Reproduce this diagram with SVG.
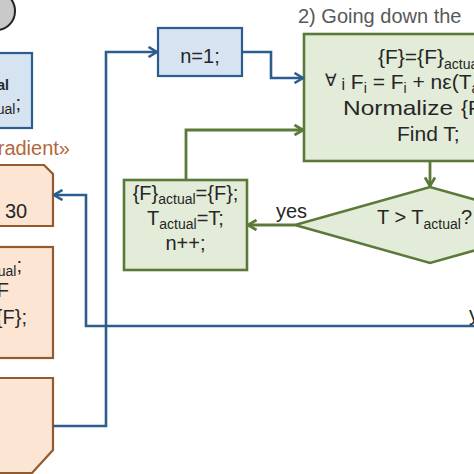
<svg xmlns="http://www.w3.org/2000/svg" width="474" height="474" viewBox="0 0 474 474">
<defs>
<style>
text{font-family:"Liberation Sans",Arial,sans-serif;fill:#262626;font-size:20px}
.sub{font-size:14px}
.big{font-size:21px}
.blue{fill:#d6e3f1;stroke:#2c5d8f;stroke-width:2.2}
.green{fill:#e3ecd8;stroke:#5b7a3a;stroke-width:2.6}
.salmon{fill:#fde5d3;stroke:#94592c;stroke-width:2.2}
.cb{fill:none;stroke:#2c5d8f;stroke-width:2.6}
.cg{fill:none;stroke:#5b7a3a;stroke-width:2.8}
</style>
<marker id="ab" viewBox="0 0 12 12" refX="10.5" refY="6" markerWidth="12" markerHeight="12" markerUnits="userSpaceOnUse" orient="auto"><path d="M2,1 L10.5,6 L2,11" fill="none" stroke="#2c5d8f" stroke-width="2.6"/></marker>
<marker id="ag" viewBox="0 0 12 12" refX="10.5" refY="6" markerWidth="12" markerHeight="12" markerUnits="userSpaceOnUse" orient="auto"><path d="M2,1 L10.5,6 L2,11" fill="none" stroke="#5b7a3a" stroke-width="2.8"/></marker>
</defs>
<rect width="474" height="474" fill="#fff"/>

<g id="start">
<ellipse cx="-3" cy="11" rx="18" ry="19" fill="#c9c9c9" stroke="#222" stroke-width="2"/>
</g>

<g id="init-left">
<rect class="blue" x="-10" y="53" width="42" height="75"/>
<text class="sub" x="9" y="90" text-anchor="end" font-weight="bold">actual</text>
<text x="21" y="110" text-anchor="end">T<tspan class="sub" dy="4">actual</tspan><tspan dy="-4">;</tspan></text>
</g>

<g id="label-left">
<text x="70" y="155" text-anchor="end" font-size="19" style="fill:#b5673a">gradient»</text>
</g>

<g id="box-a">
<path class="salmon" d="M-5,165 H44 L53,174 V226 H-5 Z"/>
<text x="5" y="218" font-size="19">30</text>
</g>

<g id="box-b">
<rect class="salmon" x="-5" y="247" width="58" height="111"/>
<text x="22" y="272" text-anchor="end">T<tspan class="sub" dy="4">actual</tspan><tspan dy="-4">;</tspan></text>
<text x="9" y="297" text-anchor="end">F</text>
<text x="27" y="324" text-anchor="end">={F};</text>
</g>

<g id="box-c">
<path class="salmon" d="M-5,378 H53 V450 L32,473 H-5 Z"/>
</g>

<g id="n-init">
<rect class="blue" x="158" y="28" width="84" height="48"/>
<text x="200" y="63" text-anchor="middle">n=1;</text>
</g>

<g id="title">
<text x="298" y="23" font-size="19" style="fill:#595959">2) Going down the</text>
</g>

<g id="update">
<rect class="green" x="304" y="34" width="190" height="127"/>
<text class="big" x="378" y="64">{F}={F}<tspan class="sub" dy="5">actual</tspan></text>
<text class="big" x="325" y="89"><tspan font-size="17" dy="-3">∀</tspan><tspan dy="4" font-size="16"> i</tspan><tspan dy="-1"> F</tspan><tspan class="sub" dy="4">i</tspan><tspan dy="-4"> = F</tspan><tspan class="sub" dy="4">i</tspan><tspan dy="-4"> + nε(T</tspan><tspan class="sub" dy="4">actual</tspan></text>
<text class="big" x="343" y="115" textLength="110" lengthAdjust="spacingAndGlyphs">Normalize</text>
<text class="big" x="461" y="115">{F};</text>
<text class="big" x="397" y="141">Find T;</text>
</g>

<g id="decision">
<polygon class="green" points="295,225 430,187 565,225 430,263"/>
<text x="377" y="224">T &gt; T<tspan class="sub" dy="5">actual</tspan><tspan dy="-5">?</tspan></text>
</g>

<g id="accept">
<rect class="green" x="124" y="180" width="123" height="90"/>
<text x="185.5" y="200" text-anchor="middle">{F}<tspan class="sub" dy="4">actual</tspan><tspan dy="-4">={F};</tspan></text>
<text x="185.5" y="225" text-anchor="middle">T<tspan class="sub" dy="4">actual</tspan><tspan dy="-4">=T;</tspan></text>
<text x="185.5" y="250" text-anchor="middle">n++;</text>
</g>

<g id="connectors">
<path class="cb" d="M53,426 H106 V52 H157" marker-end="url(#ab)"/>
<path class="cb" d="M242,52 H271 V78 H303" marker-end="url(#ab)"/>
<path class="cb" d="M474,326 H86 V195 H54" marker-end="url(#ab)"/>
<path class="cg" d="M430,161 V186" marker-end="url(#ag)"/>
<path class="cg" d="M295,225 H248" marker-end="url(#ag)"/>
<path class="cg" d="M186,180 V130 H303" marker-end="url(#ag)"/>
<text x="276" y="218" font-size="19">yes</text>
<text x="469" y="321" font-size="18">y</text>
</g>
</svg>
